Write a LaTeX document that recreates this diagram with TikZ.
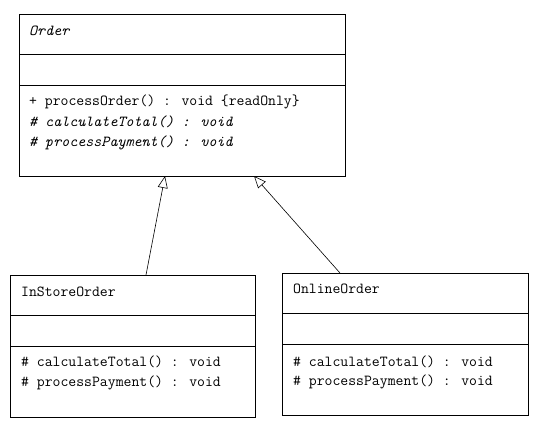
\documentclass[tikz,border=0pt]{standalone}
\usepackage{fontspec}
\usepackage{tikz}
\usetikzlibrary{arrows.meta,positioning,calc}
\newcommand{\umlfont}{\ttfamily\fontsize{15.3pt}{20pt}\selectfont}

\begin{document}
\begin{tikzpicture}[x=1pt,y=-1pt,
  >={Triangle[open,length=12pt,width=10pt]},
  umlbox/.style={draw, line width=0.8pt, inner sep=0pt, outer sep=0pt, anchor=north west},
  umltext/.style={anchor=base west, inner sep=0pt, font=\umlfont}]

\useasboundingbox[fill=white] (0,0) rectangle (547,442);

% Order
\node[umlbox, minimum width=326pt, minimum height=162pt] (order) at (19,14) {};
\draw[line width=0.8pt] ([yshift=-40pt]order.north west) -- ([yshift=-40pt]order.north east);
\draw[line width=0.8pt] ([yshift=-71pt]order.north west) -- ([yshift=-71pt]order.north east);
\node[umltext] (order-name) at (29,35) {\itshape Order};
\node[umltext] (order-op1) at (29,105) {+ processOrder() : void \{readOnly\}};
\node[umltext] (order-op2) at (29,126) {\itshape \# calculateTotal() : void};
\node[umltext] (order-op3) at (29,146) {\itshape \# processPayment() : void};

% InStoreOrder
\node[umlbox, minimum width=245pt, minimum height=142pt] (instore) at (10,275) {};
\draw[line width=0.8pt] ([yshift=-40pt]instore.north west) -- ([yshift=-40pt]instore.north east);
\draw[line width=0.8pt] ([yshift=-71pt]instore.north west) -- ([yshift=-71pt]instore.north east);
\node[umltext] (instore-name) at (21,296) {InStoreOrder};
\node[umltext] (instore-op1) at (21,366) {\# calculateTotal() : void};
\node[umltext] (instore-op2) at (21,386) {\# processPayment() : void};

% OnlineOrder
\node[umlbox, minimum width=246pt, minimum height=142pt] (online) at (282,273) {};
\draw[line width=0.8pt] ([yshift=-40pt]online.north west) -- ([yshift=-40pt]online.north east);
\draw[line width=0.8pt] ([yshift=-71pt]online.north west) -- ([yshift=-71pt]online.north east);
\node[umltext] (online-name) at (293,293) {OnlineOrder};
\node[umltext] (online-op1) at (293,366) {\# calculateTotal() : void};
\node[umltext] (online-op2) at (293,385) {\# processPayment() : void};

% generalisations
\coordinate (order-in) at (165,176);
\coordinate (order-on) at (254,176);
\coordinate (instore-up) at (146,275);
\coordinate (online-up) at (340,273);
\draw[->,line width=0.6pt] (instore-up) -- (order-in);
\draw[->,line width=0.6pt] (online-up) -- (order-on);
\end{tikzpicture}
\end{document}
